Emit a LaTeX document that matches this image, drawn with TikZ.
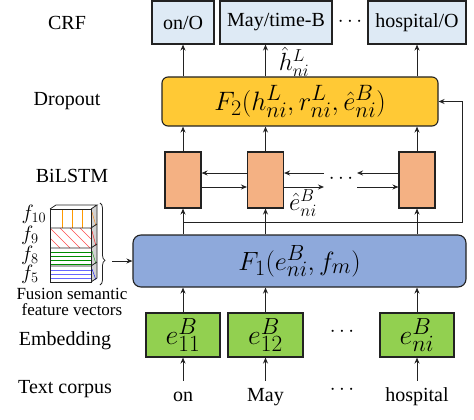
\documentclass[tikz,border=0pt]{standalone}
\usepackage{graphicx}
\usepackage{fontspec}
\setmainfont{Liberation Serif}
\usetikzlibrary{arrows.meta,decorations.pathreplacing,calc}
\DeclareMathSizes{30}{30}{22}{16}
\DeclareMathSizes{28}{28}{21}{16}
\DeclareMathSizes{27}{27}{20}{15}
\DeclareMathSizes{24}{24}{18}{14}
\DeclareMathSizes{20}{20}{15}{11}
\definecolor{crfc}{HTML}{DEEAF5}
\definecolor{dropc}{HTML}{FFC935}
\definecolor{lstmc}{HTML}{F4B183}
\definecolor{fonec}{HTML}{8EA9DB}
\definecolor{embc}{HTML}{92D050}
\definecolor{edgec}{HTML}{222222}
\begin{document}
\begin{tikzpicture}[x=1pt,y=-1pt,
  lab/.style={font=\fontsize{20}{22}\selectfont},
  box/.style={draw=edgec,line width=1.1pt,inner sep=0pt},
  crf/.style={box,fill=crfc,minimum height=43pt,font=\fontsize{20}{22}\selectfont},
  drop/.style={box,fill=dropc,rounded corners=6pt,minimum width=276pt,minimum height=49pt},
  lstm/.style={box,fill=lstmc,minimum width=36pt,minimum height=56pt},
  fone/.style={box,fill=fonec,rounded corners=8pt,minimum width=333pt,minimum height=52pt},
  emb/.style={box,fill=embc,minimum width=74pt,minimum height=44pt},
  word/.style={font=\fontsize{20}{22}\selectfont,anchor=base,text height=20pt,text depth=4pt,inner sep=0pt},
  flab/.style={font=\fontsize{20}{22}\selectfont,inner sep=0pt},
  arr/.style={-{Stealth[length=6pt,width=5pt]},line width=1pt,draw=edgec}]
\useasboundingbox (0,0) rectangle (474,420);

% left labels
\node[lab] (tcrf) at (67,23) {CRF};
\node[lab] (tdrop) at (67,101) {Dropout};
\node[lab] (tbil) at (72,176) {BiLSTM};
\node[lab] (temb) at (65,341) {Embedding};
\node[lab] (ttxt) at (65,389) {Text corpus};
\node[font=\fontsize{17}{16}\selectfont,align=center] (tfus) at (72,302) {Fusion semantic\\feature vectors};

% CRF
\node[crf,minimum width=62pt] (c1) at (183,22.5) {on/O};
\node[crf,minimum width=112pt] (c2) at (276,22.5) {May/time-B};
\node[crf,minimum width=98pt] (c3) at (417,22.5) {hospital/O};
\node[font=\fontsize{20}{22}\selectfont] (cd) at (350,22) {$\cdots$};

% Dropout
\node[drop] (d) at (300,101.5) {\fontsize{30}{32}\selectfont\scalebox{1.07}{$F_2\bigl(h^L_{ni},r^L_{ni},\hat e^B_{ni}\bigr)$}};
\node[font=\fontsize{24}{26}\selectfont] (hl) at (294,62) {$\hat h^L_{ni}$};

% LSTM
\node[lstm] (l1) at (183,180) {};
\node[lstm] (l2) at (265.5,180) {};
\node[lstm] (l3) at (417,180) {};
\node[font=\fontsize{20}{22}\selectfont] (ld) at (341,179) {$\cdots$};
\node[font=\fontsize{24}{26}\selectfont] (el) at (303,203) {$\hat e^B_{ni}$};

% F1
\node[fone] (f) at (299.5,261) {\fontsize{28}{30}\selectfont\scalebox{1.06}{$F_1\bigl(e^B_{ni},f_m\bigr)$}};

% Embedding
\node[emb] (e1) at (183,335) {\fontsize{27}{29}\selectfont\scalebox{1.12}{$e^B_{11}$}};
\node[emb,minimum width=75pt] (e2) at (265.5,335) {\fontsize{27}{29}\selectfont\scalebox{1.12}{$e^B_{12}$}};
\node[emb] (e3) at (417,335) {\fontsize{27}{29}\selectfont\scalebox{1.12}{$e^B_{ni}$}};
\node[font=\fontsize{20}{22}\selectfont] (ed) at (342,332) {$\cdots$};

% words
\node[word] (w1) at (183,401) {on};
\node[word] (w2) at (265.5,401) {May};
\node[word] (w3) at (417,401) {hospital};
\node[font=\fontsize{20}{22}\selectfont] (wd) at (342,390) {$\cdots$};

% arrows
\draw[arr] (c1 |- d.north) -- (c1.south);
\draw[arr] (l2 |- d.north) -- (l2 |- c2.south);
\draw[arr] (c3 |- d.north) -- (c3.south);
\foreach \n in {l1,l2,l3}{
  \draw[arr] (\n.north) -- (\n |- d.south);
  \draw[arr] (\n |- f.north) -- (\n.south);
}
\foreach \w/\e in {w1/e1,w2/e2,w3/e3}{
  \draw[arr] (\w.north) -- (\e.south);
  \draw[arr] (\e.north) -- (\e |- f.south);
}

% BiLSTM horizontal arrows
\coordinate (ya) at (0,173);
\coordinate (yb) at (0,187);
\coordinate (da) at (324,173);
\coordinate (db) at (324,187);
\coordinate (dc) at (357,173);
\coordinate (dd) at (357,187);
\draw[arr] (l2.west |- ya) -- (l1.east |- ya);
\draw[arr] (l1.east |- yb) -- (l2.west |- yb);
\draw[arr] (da) -- (l2.east |- ya);
\draw[arr] (l2.east |- yb) -- (db);
\draw[arr] (l3.west |- ya) -- (dc);
\draw[arr] (dd) -- (l3.west |- yb);

% feedback line
\coordinate (fb0) at (183,222);
\coordinate (fb1) at (462,222);
\draw[arr] (fb0) -- (fb1) |- (d.east);

% feature stack
\fill[white] (50,209) rectangle (91,282);
\foreach \x in {62,72,82} \draw[color=orange!80!yellow,line width=0.6pt] (\x,209) -- (\x,228);
\begin{scope}
\clip (50,228) rectangle (91,248);
\foreach \k in {-30,-20,...,50} \draw[red!70,line width=0.6pt] (50+\k,228) -- (70+\k,248);
\end{scope}
\foreach \y in {252,256,260,264} \draw[green!55!black,line width=0.6pt] (50,\y) -- (91,\y);
\foreach \y in {270,274,278} \draw[blue!60,line width=0.6pt] (50,\y) -- (91,\y);
\fill[gray!35] (91,209) -- (97,205) -- (97,278) -- (91,282) -- cycle;
\foreach \ya/\yb/\cc in {209/228/orange,228/248/red,248/266/green!60!black,266/282/blue}{
  \draw[\cc,line width=0.4pt] (92,\ya+3) -- (96,\yb-2);
}
\draw[edgec,line width=0.8pt] (50,209) rectangle (91,282);
\draw[edgec,line width=0.8pt] (50,209) -- (56,205) -- (97,205) -- (91,209);
\draw[edgec,line width=0.8pt] (97,205) -- (97,278) -- (91,282);
\foreach \y in {228,248,266}{
  \draw[edgec,line width=0.8pt] (50,\y) -- (91,\y) -- (97,\y-4);
}
\node[flab] (f10) at (34,214) {$f_{10}$};
\node[flab] (f9) at (30,235) {$f_{9}$};
\node[flab] (f8) at (30,255) {$f_{8}$};
\node[flab] (f5) at (30,274) {$f_{5}$};
\draw[edgec,line width=0.8pt,decorate,decoration={brace,amplitude=5pt,aspect=0.7}] (100,203) -- (100,285);
\coordinate (bt) at (112,261);
\draw[arr] (bt) -- (f.west |- bt);
\end{tikzpicture}
\end{document}
